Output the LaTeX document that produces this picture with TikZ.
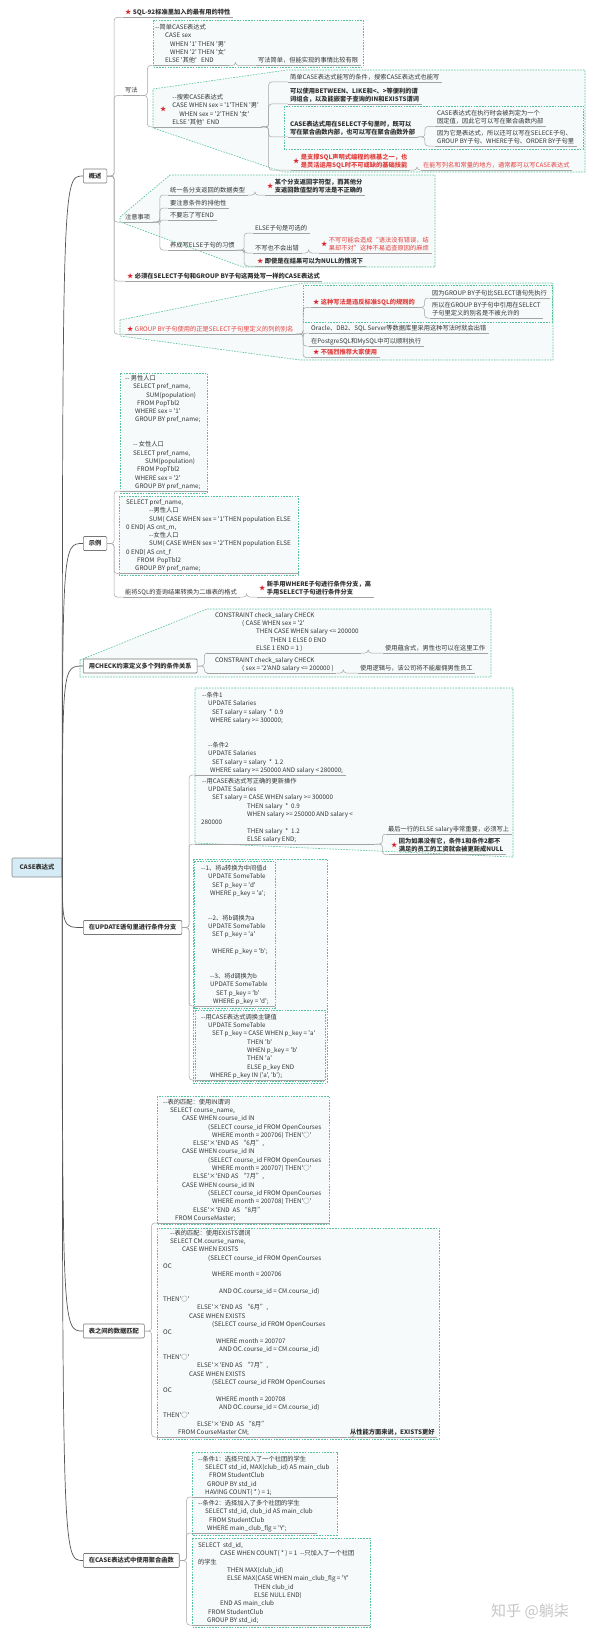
\documentclass[tikz,border=0pt]{standalone}
\usepackage{fontspec}
\setmainfont{Noto Sans CJK SC}[Ligatures=TeXOff]
\usepackage{tikz}
\usetikzlibrary{positioning}
\definecolor{txtgray}{HTML}{333333}
\definecolor{lgray}{HTML}{A3A3A3}
\definecolor{dgray}{HTML}{555555}
\definecolor{bgreen}{HTML}{55C29B}
\definecolor{bfill}{HTML}{F7FAFA}
\definecolor{sred}{HTML}{D9262F}
\definecolor{rtxt}{HTML}{E2403F}
\definecolor{rootfill}{HTML}{D5ECF6}
\newcommand\fs{\fontsize{6.25pt}{8.3pt}\selectfont}
\newcommand\dd{-{}-}
\newcommand\ind[1]{\hspace*{#1pt}}
\newcommand\ml[1]{\begin{tabular}[b]{@{}l@{}}#1\end{tabular}}
\newcommand\mlw[3]{\begin{tabular}[b]{@{}l@{}}\makebox[#1pt][l]{#2}\\#3\end{tabular}}
\newcommand\sml[1]{\textcolor{sred}{★}\hspace{1.5pt}\begin{tabular}[c]{@{}l@{}}#1\end{tabular}}
\tikzset{topic/.style = {anchor=south west, inner xsep=2.5pt, inner ysep=0pt, text=txtgray, font=\fs},
         btopic/.style = {topic, font=\fs\bfseries},
         rtopic/.style = {topic, text=rtxt},
         rbtopic/.style = {topic, text=rtxt, font=\fs\bfseries},
         main/.style = {draw=dgray!80, fill=white, rounded corners=1pt, line width=0.6pt,
                        inner xsep=5.5pt, minimum height=14pt, anchor=west, text=txtgray, font=\fs\bfseries},
         rootbox/.style = {draw=dgray!70, fill=rootfill, rounded corners=1pt, line width=0.6pt,
                           minimum width=50pt, minimum height=19pt, text=txtgray, font=\fs\bfseries},
         uline/.style = {draw=lgray, line width=0.5pt},
         conn/.style = {draw=lgray, line width=0.5pt, rounded corners=3pt,
                        to path={-- ++(7,0) |- (\tikztotarget)}},
         mconn/.style = {draw=dgray, line width=0.7pt,
                         to path={.. controls (\tikztostart |- \tikztotarget) .. (\tikztotarget)}},
         bound/.style = {draw=bgreen, dash pattern=on 1.6pt off 1.2pt, line width=0.6pt, fill=bfill}}

\begin{document}
\begin{tikzpicture}[x=1pt, y=-1pt]
  \useasboundingbox (0,0) rectangle (600,1635);

  % boundaries
  \draw[bound] (153,20) rectangle (363,67);
  \draw[bound] (153,89) -- (287,70) -- (585,70) -- (585,172) -- (283,172) -- (153,128) -- cycle;
  \draw[bound] (284,106) rectangle (583,149);
  \draw[bound] (120,217) -- (170,175) -- (435,175) -- (435,267) -- (243,267) -- (120,222) -- cycle;
  \draw[bound] (120,320) -- (303,283) -- (553,283) -- (553,360) -- (300,360) -- (120,336) -- cycle;
  \draw[bound] (303,285) rectangle (552,322);
  \draw[bound] (120,373) rectangle (207,493);
  \draw[bound] (119,496) rectangle (298,575);
  \draw[bound] (80,660) -- (207,609) -- (491,609) -- (491,677) -- (80,677) -- cycle;
  \draw[bound] (195,688) -- (513,688) -- (513,857) -- (195,843) -- cycle;
  \draw[bound] (193,859) rectangle (327,1083);
  \draw[bound] (194.5,861) rectangle (275,1008);
  \draw[bound] (195,1010) rectangle (325,1081);
  \draw[bound] (157,1096) rectangle (329,1224);
  \draw[bound] (157,1228) rectangle (439,1439);
  \draw[bound] (192,1452) rectangle (337,1535);
  \draw[bound] (192,1538) rectangle (370,1627);

  % root and main branches
  \node[rootbox] (root) at (37,867.5) {CASE表达式};
  \node[main] (gaishu) at (83,176) {概述};
  \node[main] (shili) at (83,543.5) {示例};
  \node[main] (check) at (83,666) {用CHECK约束定义多个列的条件关系};
  \node[main] (update) at (83,927.5) {在UPDATE语句里进行条件分支};
  \node[main] (pipei) at (83,1331) {表之间的数据匹配};
  \node[main] (juhe) at (83,1560.5) {在CASE表达式中使用聚合函数};

  % 概述
  \node[btopic] (t1) at (122.5,17.5) {\sml{SQL-92标准里加入的最有用的特性}};
  \node[topic] (xiefa) at (122.5,95.5) {\ml{写法}};
  \node[topic] (jd) at (152.5,65.5) {\ml{\dd 简单CASE表达式\\ \ind{10}CASE sex\\ \ind{15}WHEN '1' THEN '男'\\
      \ind{15}WHEN '2' THEN '女'\\ \ind{10}ELSE '其他'\ \ \ END}};
  \node[topic] (jdr) at (255.5,65.5) {\ml{写法简单，但能实现的事情比较有限}};
  \node[topic] (ss) at (152.5,127) {\hspace*{5pt}\textcolor{sred}{★}\hspace{6pt}\begin{tabular}[c]{@{}l@{}}\dd 搜索CASE表达式\\
      CASE WHEN sex = '1'THEN '男'\\ \ind{7}WHEN sex = '2'THEN '女'\\ ELSE '其他'\ \ END\end{tabular}};
  \node[topic] (c1) at (287.5,82) {\ml{简单CASE表达式能写的条件，搜索CASE表达式也能写}};
  \node[btopic] (c2) at (287.5,104) {\ml{可以使用BETWEEN、LIKE和<、>等便利的谓\\ 词组合，以及能嵌套子查询的IN和EXISTS谓词}};
  \node[btopic] (c3) at (287.5,137) {\ml{CASE表达式用在SELECT子句里时，既可以\\ 写在聚合函数内部，也可以写在聚合函数外部}};
  \node[topic] (c3a) at (434.5,126.5) {\ml{CASE表达式在执行时会被判定为一个\\ 固定值，因此它可以写在聚合函数内部}};
  \node[topic] (c3b) at (434.5,146) {\ml{因为它是表达式，所以还可以写在SELECE子句、\\ GROUP BY子句、WHERE子句、ORDER BY子句里}};
  \node[rbtopic] (c4) at (290.5,170) {\sml{是支撑SQL声明式编程的根基之一，也\\ 是灵活运用SQL时不可或缺的基础技能}};
  \node[rtopic] (c4a) at (420.5,170) {\ml{在能写列名和常量的地方，通常都可以写CASE表达式}};
  \node[topic] (zy) at (122.5,222) {\ml{注意事项}};
  \node[topic] (z1) at (167.5,195) {\ml{统一各分支返回的数据类型}};
  \node[btopic] (z1a) at (264.5,195) {\sml{某个分支返回字符型，而其他分\\ 支返回数值型的写法是不正确的}};
  \node[topic] (z2) at (167.5,208) {\ml{要注意条件的排他性}};
  \node[topic] (z3) at (167.5,220) {\ml{不要忘了写END}};
  \node[topic] (z4) at (167.5,250) {\ml{养成写ELSE子句的习惯}};
  \node[topic] (z4a) at (252.5,233) {\ml{ELSE子句是可选的}};
  \node[topic] (z4b) at (252.5,253) {\ml{不写也不会出错}};
  \node[rtopic] (z4b1) at (318.5,253) {\sml{不写可能会造成“语法没有错误，结\\ 果却不对”这种不易追查原因的麻烦}};
  \node[btopic] (z4c) at (254.5,266) {\sml{即使是在结果可以为NULL的情况下}};
  \node[btopic] (t4) at (124.5,281) {\sml{必须在SELECT子句和GROUP BY子句这两处写一样的CASE表达式}};
  \node[rtopic] (gb) at (124.5,334) {\sml{GROUP BY子句使用的正是SELECT子句里定义的列的别名}};
  \node[rbtopic] (gb1) at (310.5,307.5) {\sml{这种写法是违反标准SQL的规则的}};
  \node[topic] (gb1a) at (429.5,298) {\ml{因为GROUP BY子句比SELECT语句先执行}};
  \node[topic] (gb1b) at (429.5,318) {\ml{所以在GROUP BY子句中引用在SELECT\\ 子句里定义的别名是不被允许的}};
  \node[topic] (gb2) at (308.5,333) {\ml{Oracle、DB2、SQL Server等数据库里采用这种写法时就会出错}};
  \node[topic] (gb3) at (308.5,346) {\ml{在PostgreSQL和MySQL中可以顺利执行}};
  \node[rbtopic] (gb4) at (310.5,357.5) {\sml{不强烈推荐大家使用}};

  % 示例
  \node[topic] (ex1) at (120,491) {\mlw{82}{\ind{2.5}\dd\ 男性人口}{\ind{10.5}SELECT pref\_name,\\ \ind{23.5}SUM(population)\\
      \ind{14.5}FROM PopTbl2\\ \ind{12.5}WHERE sex = '1'\\ \ind{12.5}GROUP BY pref\_name;\\ \\ \\
      \ind{10.5}\dd\ 女性人口\\ \ind{10.5}SELECT pref\_name,\\ \ind{22.5}SUM(population)\\ \ind{14.5}FROM PopTbl2\\
      \ind{12.5}WHERE sex = '2'\\ \ind{12.5}GROUP BY pref\_name;}};
  \node[topic] (ex2) at (119.5,573.5) {\mlw{174}{\ind{4}SELECT pref\_name,}{\ind{27}\dd 男性人口\\
      \ind{27}SUM( CASE WHEN sex = '1'THEN population ELSE\\ \ind{4}0 END) AS cnt\_m,\\ \ind{27}\dd 女性人口\\
      \ind{27}SUM( CASE WHEN sex = '2'THEN population ELSE\\ \ind{4}0 END) AS cnt\_f\\ \ind{15}FROM\ \ PopTbl2\\
      \ind{13}GROUP BY pref\_name;}};
  \node[topic] (ex3) at (122.5,597) {\ml{能将SQL的查询结果转换为二维表的格式}};
  \node[btopic] (ex3a) at (256.5,597) {\sml{新手用WHERE子句进行条件分支，高\\ 手用SELECT子句进行条件分支}};

  % CHECK
  \node[topic] (ck1) at (207,653) {\ml{\ind{5.5}CONSTRAINT check\_salary CHECK\\ \ind{32.5}( CASE WHEN sex = '2'\\
      \ind{46.5}THEN CASE WHEN salary <= 200000\\ \ind{60.5}THEN 1 ELSE 0 END\\ \ind{46.5}ELSE 1 END = 1 )}};
  \node[topic] (ck1a) at (382.5,653) {\ml{使用蕴含式，男性也可以在这里工作}};
  \node[topic] (ck2) at (207,673) {\ml{\ind{5.5}CONSTRAINT check\_salary CHECK\\ \ind{32.5}( sex = '2'AND salary <= 200000 )}};
  \node[topic] (ck2a) at (357.5,673) {\ml{使用逻辑与，该公司将不能雇佣男性员工}};

  % UPDATE
  \node[topic] (up1) at (195,775) {\ml{\ind{4.5}\dd 条件1\\ \ind{10.5}UPDATE Salaries\\ \ind{14.5}SET salary = salary\ \ *\ \ 0.9\\
      \ind{12.5}WHERE salary >= 300000;\\ \\ \\ \ind{10.5}\dd 条件2\\ \ind{10.5}UPDATE Salaries\\
      \ind{14.5}SET salary = salary\ \ *\ \ 1.2\\ \ind{12.5}WHERE salary >= 250000 AND salary < 280000;}};
  \node[topic] (up2) at (195,844) {\mlw{175}{\ind{4.5}\dd 用CASE表达式写正确的更新操作}{\ind{10.5}UPDATE Salaries\\
      \ind{14.5}SET salary = CASE WHEN salary >= 300000\\ \ind{49.5}THEN salary\ \ *\ \ 0.9\\
      \ind{49.5}WHEN salary >= 250000 AND salary <\\ \ind{3.5}280000\\ \ind{49.5}THEN salary\ \ *\ \ 1.2\\
      \ind{49.5}ELSE salary END;}};
  \node[topic] (up2a) at (385.5,834) {\ml{最后一行的ELSE salary非常重要，必须写上}};
  \node[btopic] (up2b) at (388.5,854.5) {\sml{因为如果没有它，条件1和条件2都不\\ 满足的员工的工资就会被更新成NULL}};
  \node[topic] (up3) at (194,1006) {\mlw{76}{\ind{4.5}\dd 1、将a转换为中间值d}{\ind{11.5}UPDATE SomeTable\\ \ind{15.5}SET p\_key = 'd'\\
      \ind{13.5}WHERE p\_key = 'a';\\ \\ \\ \ind{11.5}\dd 2、将b调换为a\\ \ind{11.5}UPDATE SomeTable\\ \ind{15.5}SET p\_key = 'a'\\ \\
      \ind{15.5}WHERE p\_key = 'b';\\ \\ \\ \ind{13.5}\dd 3、将d调换为b\\ \ind{13.5}UPDATE SomeTable\\ \ind{19.5}SET p\_key = 'b'\\
      \ind{16.5}WHERE p\_key = 'd';}};
  \node[topic] (up4) at (195,1080) {\mlw{125}{\ind{3.5}\dd 用CASE表达式调换主键值}{\ind{10.5}UPDATE SomeTable\\
      \ind{14.5}SET p\_key = CASE WHEN p\_key = 'a'\\ \ind{49.5}THEN 'b'\\ \ind{49.5}WHEN p\_key = 'b'\\ \ind{49.5}THEN 'a'\\
      \ind{49.5}ELSE p\_key END\\ \ind{12.5}WHERE p\_key IN ('a', 'b');}};

  % 表之间的数据匹配
  \node[topic] (tb1) at (157,1223) {\mlw{167}{\ind{3.5}\dd 表的匹配：使用IN谓词}{\ind{10.5}SELECT course\_name,\\
      \ind{22.5}CASE WHEN course\_id IN\\ \ind{48.5}(SELECT course\_id FROM OpenCourses\\ \ind{52.5}WHERE month = 200706) THEN'○'\\
      \ind{33.5}ELSE'×'END AS “6月”,\\ \ind{22.5}CASE WHEN course\_id IN\\ \ind{48.5}(SELECT course\_id FROM OpenCourses\\
      \ind{52.5}WHERE month = 200707) THEN'○'\\ \ind{33.5}ELSE'×'END AS “7月”,\\ \ind{22.5}CASE WHEN course\_id IN\\
      \ind{48.5}(SELECT course\_id FROM OpenCourses\\ \ind{52.5}WHERE month = 200708) THEN'○'\\ \ind{33.5}ELSE'×'END\ \ AS “8月”\\
      \ind{15.5}FROM CourseMaster;}};
  \node[topic] (tb2) at (157,1437) {\mlw{185}{\ind{10.5}\dd 表的匹配：使用EXISTS谓词}{\ind{10.5}SELECT CM.course\_name,\\
      \ind{22.5}CASE WHEN EXISTS\\ \ind{48.5}(SELECT course\_id FROM OpenCourses\\ \ind{3.5}OC\\ \ind{52.5}WHERE month = 200706\\ \\
      \ind{59.5}AND OC.course\_id = CM.course\_id)\\ \ind{3.5}THEN'○'\\ \ind{37.5}ELSE'×'END AS “6月”,\\
      \ind{29.5}CASE WHEN EXISTS\\ \ind{52.5}(SELECT course\_id FROM OpenCourses\\ \ind{3.5}OC\\ \ind{56.5}WHERE month = 200707\\
      \ind{59.5}AND OC.course\_id = CM.course\_id)\\ \ind{3.5}THEN'○'\\ \ind{37.5}ELSE'×'END AS “7月”,\\
      \ind{29.5}CASE WHEN EXISTS\\ \ind{52.5}(SELECT course\_id FROM OpenCourses\\ \ind{3.5}OC\\ \ind{56.5}WHERE month = 200708\\
      \ind{59.5}AND OC.course\_id = CM.course\_id)\\ \ind{3.5}THEN'○'\\ \ind{37.5}ELSE'×'END\ \ AS “8月”\\
      \ind{18.5}FROM CourseMaster CM;}};
  \node[btopic] (tb2a) at (347.5,1437) {\ml{从性能方面来说，EXISTS更好}};

  % 聚合函数
  \node[topic] (jh1) at (192,1497) {\mlw{140}{\ind{3.5}\dd 条件1：选择只加入了一个社团的学生}{%
      \ind{10.5}SELECT std\_id, MAX(club\_id) AS main\_club\\ \ind{14.5}FROM StudentClub\\ \ind{12.5}GROUP BY std\_id\\
      \ind{10.5}HAVING COUNT( * ) = 1;}};
  \node[topic] (jh2) at (192,1533) {\mlw{120}{\ind{3.5}\dd 条件2：选择加入了多个社团的学生}{%
      \ind{10.5}SELECT std\_id, club\_id AS main\_club\\ \ind{14.5}FROM StudentClub\\ \ind{12.5}WHERE main\_club\_flg = 'Y';}};
  \node[topic] (jh3) at (192,1625) {\mlw{173}{\ind{3.5}SELECT\ \ std\_id,}{\ind{25.5}CASE WHEN COUNT( * ) = 1\ \ \dd 只加入了一个社团\\
      \ind{3.5}的学生\\ \ind{32.5}THEN MAX(club\_id)\\ \ind{32.5}ELSE MAX(CASE WHEN main\_club\_flg = 'Y'\\
      \ind{59.5}THEN club\_id\\ \ind{59.5}ELSE NULL END)\\ \ind{25.5}END AS main\_club\\ \ind{13.5}FROM StudentClub\\
      \ind{12.5}GROUP BY std\_id;}};

  \node[text=gray!45, font=\fontsize{15pt}{15pt}\selectfont] (mark) at (530,1611) {知乎 @躺柒};

  % underlines
  \foreach \n in {t1,xiefa,jd,jdr,ss,c1,c2,c3,c3a,c3b,c4,c4a,zy,z1,z1a,z2,z3,z4,z4a,z4b,z4b1,z4c,t4,gb,gb1,gb1a,gb1b,gb2,gb3,gb4,
                  ex1,ex2,ex3,ex3a,ck1,ck1a,ck2,ck2a,up1,up2,up2a,up2b,up3,up4,tb1,tb2,tb2a,jh1,jh2,jh3}
    \draw[uline] (\n.south west) -- (\n.south east);

  % connectors
  \foreach \c in {gaishu,shili,check,update,pipei,juhe}
    \draw[mconn] (root.east) to (\c.west);
  \foreach \p/\c in {gaishu.east/t1, gaishu.east/xiefa, gaishu.east/zy, gaishu.east/t4, gaishu.east/gb,
                     xiefa.south east/jd, xiefa.south east/ss, jd.south east/jdr,
                     ss.south east/c1, ss.south east/c2, ss.south east/c3, ss.south east/c4,
                     c3.south east/c3a, c3.south east/c3b, c4.south east/c4a,
                     zy.south east/z1, zy.south east/z2, zy.south east/z3, zy.south east/z4, z1.south east/z1a,
                     z4.south east/z4a, z4.south east/z4b, z4.south east/z4c, z4b.south east/z4b1,
                     gb.south east/gb1, gb.south east/gb2, gb.south east/gb3, gb.south east/gb4,
                     gb1.south east/gb1a, gb1.south east/gb1b,
                     shili.east/ex1, shili.east/ex2, shili.east/ex3, ex3.south east/ex3a,
                     check.east/ck1, check.east/ck2, ck1.south east/ck1a, ck2.south east/ck2a,
                     update.east/up1, update.east/up2, update.east/up3, update.east/up4,
                     up2.south east/up2a, up2.south east/up2b,
                     pipei.east/tb1, pipei.east/tb2, tb2.south east/tb2a,
                     juhe.east/jh1, juhe.east/jh2, juhe.east/jh3}
    \draw[conn] (\p) to (\c.south west);
\end{tikzpicture}
\end{document}
